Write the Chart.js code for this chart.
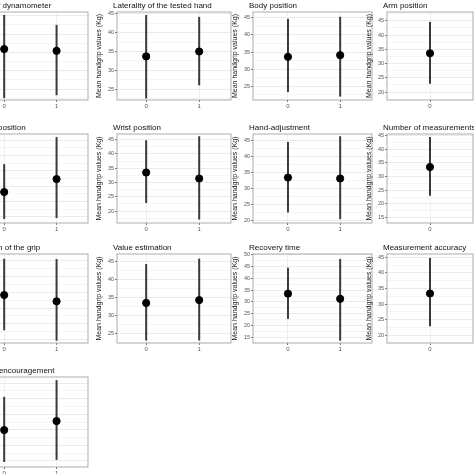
<!DOCTYPE html>
<html><head><meta charset="utf-8">
<script src="https://cdn.jsdelivr.net/npm/chart.js@4"></script>
<style>
html,body{margin:0;padding:0;background:#fff;width:474px;height:474px;overflow:hidden;position:relative}
.p{position:absolute}
</style></head><body>
<script>
const titles = ["Type of dynamometer","Laterality of the tested hand","Body position","Arm position",
"Elbow position","Wrist position","Hand-adjustment","Number of measurements",
"Position of the grip","Value estimation","Recovery time","Measurement accuracy",
"Verbal encouragement"];
const categories = [["0","1"],["0","1"],["0","1"],["0"],["0","1"],["0","1"],["0","1"],["0"],["0","1"],["0","1"],["0","1"],["0"],["0","1"]];
const yMin = [22,22.1,21,17.2,18,15.8,19.3,13,19,22.3,12.6,17.5,18];
const yMax = [46,45.5,46.7,48.1,47,47,47.1,45.6,47,47.2,50.3,46.1,47];
const means = [[35.9,35.4],[33.7,35],[33.6,34.1],[33.6],[28.1,32.3],[33.5,31.4],[33.5,33.2],[33.5],[34.1,32.1],[33.5,34.3],[33.5,31.3],[33.4],[29.9,32.8]];
const lows  = [[22.5,23.3],[22.5,26],[23.3,22],[22.9],[19.3,19.6],[22.8,17],[22.6,20.5],[23],[23,19.7],[23,23],[22.8,13.6],[22.9],[19.6,20.3]];
const highs = [[45.2,42.5],[44.7,44.2],[44.7,45.3],[44.6],[37.2,46],[44.8,46.2],[44.6,46.4],[44.5],[45.5,45.4],[44.4,45.9],[44.5,48.2],[44.8],[40.6,46]];

const colFrame = [[-22,92],[117,235],[253,376],[387,477]];
const colX = [[-0.5,1.6],[-0.55,1.6],[-0.67,1.61],[-0.6,0.6]];
const rowFrame = [[12,100],[134,223],[254,343],[377,467]];
const YW = 22, TOP = 16, XH = 12;
const FONT = "'Liberation Sans', Arial, sans-serif";

const titlePlugin = {
  id:'ptitle',
  afterDraw(chart, args, opts){
    const c = chart.ctx, a = chart.chartArea;
    c.save(); c.font = "8px " + FONT; c.fillStyle = "#111"; c.textBaseline = "middle";
    c.fillText(opts.text, a.left - 4, a.top - 6); c.restore();
  }
};
const framePlugin = {
  id:'frame',
  afterDraw(chart){
    const c = chart.ctx, a = chart.chartArea;
    c.save(); c.strokeStyle = "#9a9a9a"; c.lineWidth = 0.8;
    c.strokeRect(a.left, a.top, a.right - a.left, a.bottom - a.top); c.restore();
  }
};

titles.forEach((t, i) => {
  const r = Math.floor(i / 4), col = i % 4;
  const fx = colFrame[col], fy = rowFrame[r];
  const w = YW + (fx[1] - fx[0]) + 1, h = TOP + (fy[1] - fy[0]) + XH;
  const div = document.createElement('div');
  div.className = 'p';
  div.style.left = (fx[0] - YW) + 'px'; div.style.top = (fy[0] - TOP) + 'px';
  div.style.width = w + 'px'; div.style.height = h + 'px';
  const cv = document.createElement('canvas'); div.appendChild(cv); document.body.appendChild(div);
  const cats = categories[i];
  const datasets = [];
  cats.forEach((c, k) => {
    datasets.push({type:'line', data:[{x:+c, y:lows[i][k]},{x:+c, y:highs[i][k]}],
      borderColor:'#3a3a3a', borderWidth:2, pointRadius:0, order:2});
  });
  datasets.push({type:'scatter', data:cats.map((c,k)=>({x:+c, y:means[i][k]})),
    backgroundColor:'#000', borderColor:'#000', pointRadius:3.6, order:1});
  new Chart(cv, {
    data:{datasets},
    options:{
      responsive:true, maintainAspectRatio:false, animation:false,
      layout:{padding:{top:TOP, right:1, left:0, bottom:0}},
      plugins:{legend:{display:false}, tooltip:{enabled:false}, ptitle:{text:t}},
      scales:{
        x:{type:'linear', min:colX[col][0], max:colX[col][1],
          afterBuildTicks(s){ s.ticks = cats.map(c=>({value:+c})); },
          afterFit(s){ s.height = XH; },
          border:{display:false},
          grid:{color:'#ececec', lineWidth:0.8, tickLength:2, tickColor:'#555'},
          ticks:{autoSkip:false, maxRotation:0, font:{size:6, family:FONT}, color:'#555', padding:1, callback:v=>String(v)}},
        y:{min:yMin[i], max:yMax[i],
          afterBuildTicks(s){ const a=[]; for(let v=Math.ceil(yMin[i]/2.5)*2.5; v<=yMax[i]; v+=2.5) a.push({value:v}); s.ticks=a; },
          afterFit(s){ s.width = YW; },
          border:{display:false},
          title:{display:true, text:'Mean handgrip values (Kg)', font:{size:7, family:FONT}, color:'#222', padding:0},
          grid:{color:c=> (c.tick && c.tick.value % 5 === 0) ? '#e6e6e6' : '#f3f3f3', lineWidth:0.8,
                tickLength:2, tickColor:c=> (c.tick && c.tick.value % 5 === 0) ? '#555' : 'rgba(0,0,0,0)'},
          ticks:{autoSkip:false, font:{size:5.5, family:FONT}, color:'#555', padding:1,
                 callback:v=> v % 5 === 0 ? String(v) : ''}}
      }
    },
    plugins:[titlePlugin, framePlugin]
  });
});
</script>
</body></html>
